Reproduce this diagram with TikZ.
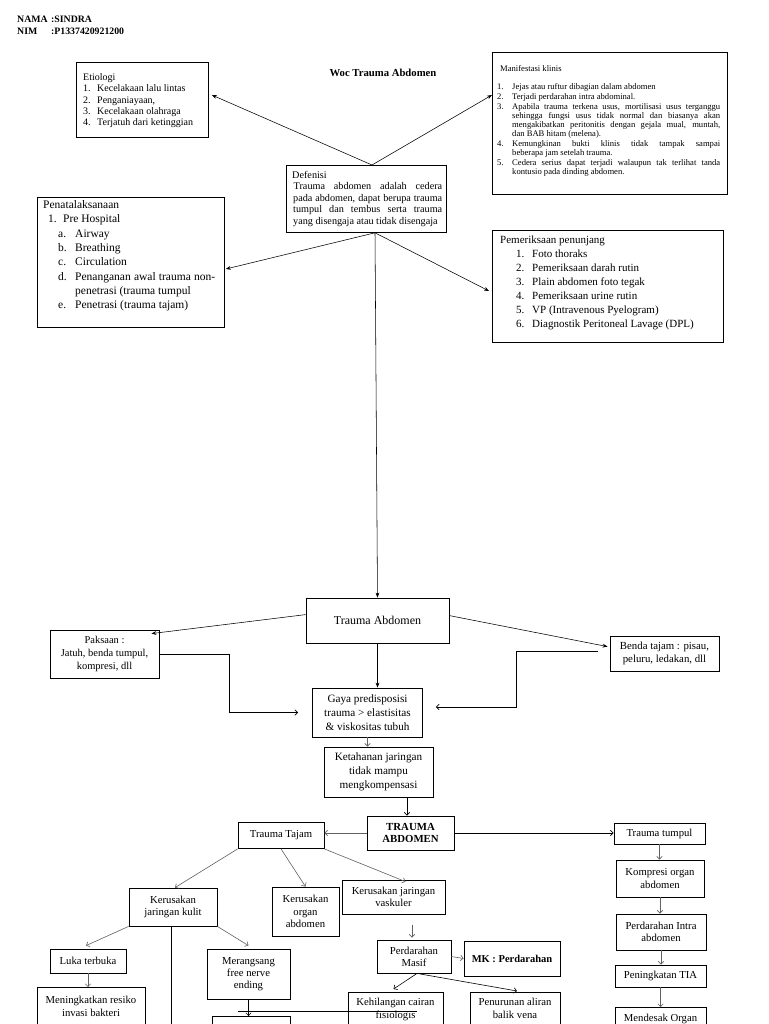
\documentclass[tikz,border=0pt]{standalone}
\usepackage{fontspec}
\setmainfont{Liberation Serif}
\usetikzlibrary{arrows.meta,calc}
\newcommand\trfont{\fontsize{10.7}{12.3}\selectfont}
\begin{document}
\begin{tikzpicture}[x=1pt,y=-1pt,
  bx/.style={draw=black, line width=0.8pt, inner sep=0pt, align=center, font=\trfont},
  fa/.style={line width=0.55pt, -{Stealth[length=5pt,width=3.8pt]}},
  oa/.style={line width=0.6pt, draw=black!62, -{Straight Barb[length=2.8pt,width=5.5pt,line width=0.6pt]}},
  od/.style={line width=0.6pt, draw=black, -{Straight Barb[length=2.8pt,width=5.5pt,line width=0.6pt]}},
  ln/.style={line width=0.6pt, draw=black},
  txt/.style={anchor=north west, inner sep=0pt, align=left}]
\fill[white] (0,0) rectangle (768,1024);
\useasboundingbox (0,0) rectangle (768,1024);

% header and title
\node[anchor=west, inner sep=0pt, font=\fontsize{9.8}{12}\selectfont\bfseries] (hdr) at (17,26)
  {\begin{tabular}{@{}l@{\hspace{3.5pt}}l@{}}NAMA & :SINDRA\\ NIM & :P1337420921200\end{tabular}};
\node[font=\fontsize{10.7}{12}\selectfont\bfseries] (ttl) at (383,73) {Woc Trauma Abdomen};

% upper boxes
\node[bx, minimum width=132, minimum height=75, anchor=north west] (eti) at (76,62) {};
\node[txt, font=\fontsize{10}{11.3}\selectfont] (etitx) at (83,73.5) {Etiologi\\
\makebox[14pt][l]{1.}Kecelakaan lalu lintas\\
\makebox[14pt][l]{2.}Penganiayaan,\\
\makebox[14pt][l]{3.}Kecelakaan olahraga\\
\makebox[14pt][l]{4.}Terjatuh dari ketinggian};

\node[bx, minimum width=235, minimum height=142, anchor=north west] (man) at (492,52) {};
\node[txt, font=\fontsize{8.6}{8.8}\selectfont] (mantx) at (497,65) {\hspace*{3pt}Manifestasi klinis\\[9.6pt]
\makebox[15pt][l]{1.}Jejas atau ruftur dibagian dalam abdomen\\[1.3pt]
\makebox[15pt][l]{2.}Terjadi perdarahan intra abdominal.\\[1.3pt]
\makebox[15pt][l]{3.}\makebox[208pt][s]{Apabila trauma terkena usus, mortilisasi usus terganggu}\\
\hspace*{15pt}\makebox[208pt][s]{sehingga fungsi usus tidak normal dan biasanya akan}\\
\hspace*{15pt}\makebox[208pt][s]{mengakibatkan peritonitis dengan gejala mual, muntah,}\\
\hspace*{15pt}dan BAB hitam (melena).\\[1.3pt]
\makebox[15pt][l]{4.}\makebox[208pt][s]{Kemungkinan bukti klinis tidak tampak sampai}\\
\hspace*{15pt}beberapa jam setelah trauma.\\[1.3pt]
\makebox[15pt][l]{5.}\makebox[208pt][s]{Cedera serius dapat terjadi walaupun tak terlihat tanda}\\
\hspace*{15pt}kontusio pada dinding abdomen.};

\node[bx, minimum width=160, minimum height=67, anchor=north west] (def) at (286,165) {};
\node[txt, font=\fontsize{10.2}{11.5}\selectfont] (deftx) at (292,171) {Defenisi\\
\hspace*{1.5pt}\makebox[148.5pt][s]{Trauma abdomen adalah cedera}\\
\hspace*{1pt}\makebox[149pt][s]{pada abdomen, dapat berupa trauma}\\
\hspace*{1pt}\makebox[149pt][s]{tumpul dan tembus serta trauma}\\
\hspace*{1pt}yang disengaja atau tidak disengaja};

\node[bx, minimum width=187, minimum height=130, anchor=north west] (pen) at (37,197) {};
\node[txt, font=\fontsize{11.5}{14.3}\selectfont] (pentx) at (43,200.5) {Penatalaksanaan\\
\hspace*{5pt}\makebox[15pt][l]{1.}Pre Hospital\\
\hspace*{15pt}\makebox[17pt][l]{a.}Airway\\
\hspace*{15pt}\makebox[17pt][l]{b.}Breathing\\
\hspace*{15pt}\makebox[17pt][l]{c.}Circulation\\
\hspace*{15pt}\makebox[17pt][l]{d.}\makebox[140pt][s]{Penanganan awal trauma non-}\\
\hspace*{32pt}penetrasi (trauma tumpul\\
\hspace*{15pt}\makebox[17pt][l]{e.}Penetrasi (trauma tajam)};

\node[bx, minimum width=231, minimum height=112, anchor=north west] (pem) at (492,230) {};
\node[txt, font=\fontsize{11}{14}\selectfont] (pemtx) at (500,236) {Pemeriksaan penunjang\\
\hspace*{16pt}\makebox[16pt][l]{1.}Foto thoraks\\
\hspace*{16pt}\makebox[16pt][l]{2.}Pemeriksaan darah rutin\\
\hspace*{16pt}\makebox[16pt][l]{3.}Plain abdomen foto tegak\\
\hspace*{16pt}\makebox[16pt][l]{4.}Pemeriksaan urine rutin\\
\hspace*{16pt}\makebox[16pt][l]{5.}VP (Intravenous Pyelogram)\\
\hspace*{16pt}\makebox[16pt][l]{6.}Diagnostik Peritoneal Lavage (DPL)};

% middle boxes
\node[bx, minimum width=143, minimum height=45, font=\fontsize{12}{14}\selectfont] (ta) at (377.5,620.5) {Trauma Abdomen};
\node[bx, minimum width=109, minimum height=48, font=\fontsize{10.5}{13}\selectfont] (pak) at (104.5,654) {Paksaan :\\Jatuh, benda tumpul,\\kompresi, dll};
\node[bx, minimum width=109, minimum height=35, font=\fontsize{10.8}{13.3}\selectfont] (ben) at (664.5,653.5) {Benda tajam : pisau,\\peluru, ledakan, dll};
\node[bx, minimum width=110, minimum height=49, font=\fontsize{11.2}{14.3}\selectfont] (gaya) at (367.5,712.5) {Gaya predisposisi\\trauma > elastisitas\\\& viskositas tubuh};
\node[bx, minimum width=109, minimum height=50, font=\fontsize{11.2}{14}\selectfont] (ket) at (378.5,772) {Ketahanan jaringan\\tidak mampu\\mengkompensasi};
\node[bx, minimum width=87, minimum height=34, font=\fontsize{10.8}{12.3}\selectfont\bfseries] (TA2) at (410.5,833) {TRAUMA\\ABDOMEN};

% right chain
\node[bx, minimum width=91, minimum height=21] (tumpul) at (659.5,833.5) {Trauma tumpul};
\node[bx, minimum width=88, minimum height=37] (komp) at (660,878.5) {Kompresi organ\\abdomen};
\node[bx, minimum width=90, minimum height=36] (pintra) at (661,932) {Perdarahan Intra\\abdomen};
\node[bx, minimum width=91, minimum height=22] (tia) at (660.5,976) {Peningkatan TIA};
\node[bx, minimum width=91, anchor=north, inner ysep=7pt] (mend) at (660.5,1007) {Mendesak Organ\\\phantom{M}};

% left tree
\node[bx, minimum width=86, minimum height=26] (tajam) at (281,835.5) {Trauma Tajam};
\node[bx, minimum width=88, minimum height=38] (kulit) at (173,907) {Kerusakan\\jaringan kulit};
\node[bx, minimum width=67, minimum height=49] (organ) at (305.5,911.5) {Kerusakan\\organ\\abdomen};
\node[bx, minimum width=103, minimum height=34] (vask) at (393.5,897) {Kerusakan jaringan\\vaskuler};
\node[bx, minimum width=76, minimum height=24] (luka) at (88,961) {Luka terbuka};
\node[bx, minimum width=83, minimum height=50] (meran) at (248.5,974) {Merangsang\\free nerve\\ending};
\node[bx, minimum width=108, anchor=north, inner ysep=9pt] (mening) at (91,987) {Meningkatkan resiko\\invasi bakteri\\\phantom{M}};
\node[bx, minimum width=74, minimum height=33] (masif) at (414,956.5) {Perdarahan\\Masif};
\node[bx, minimum width=96, minimum height=35, font=\fontsize{10.5}{12}\selectfont\bfseries] (mk) at (512,958.5) {MK : Perdarahan};
\node[bx, minimum width=95, anchor=north, inner ysep=6pt] (keh) at (395.5,992) {Kehilangan cairan\\fisiologis};
\node[bx, minimum width=90, anchor=north, inner ysep=6pt] (penu) at (515,992) {Penurunan aliran\\balik vena};
\node[bx, minimum width=78, minimum height=30, anchor=north] (nyeri) at (251,1016) {};

% coordinates
\coordinate (dft) at ($(def.north west)+(86,0)$);
\coordinate (dfb) at ($(def.south west)+(89,0)$);
\coordinate (k2) at ($(TA2.north)+(-3.5,0)$);
\coordinate (h1) at (238,1011);
\coordinate (h2) at (417,1011);

% upper connectors
\draw[fa] (dft) -- ($(eti.north east)+(3,33)$);
\draw[fa] (dft) -- ($(man.north west)+(0,43)$);
\draw[fa] (dfb) -- ($(pen.north east)+(1,72)$);
\draw[fa] (dfb) -- ($(pem.north west)+(-3,61)$);
\draw[fa] (dfb) -- (ta.north);

% middle connectors
\draw[fa] ($(ta.north west)+(0,17)$) -- ($(pak.north east)+(-8,4)$);
\draw[fa] ($(ta.north east)+(0,18)$) -- ($(ben.north west)+(-2,11)$);
\draw[od] (pak.east) -- ++(70,0) |- ($(gaya.west)+(-14,0)$);
\draw[od] ($(ben.west)+(-12,-2.5)$) -- ++(-81,0) |- ($(gaya.east)+(13,-5.5)$);
\draw[fa] (ta.south) -- (ta.south |- gaya.north);
\draw[oa] (gaya.south) -- (gaya.south |- ket.north);
\draw[od] (k2 |- ket.south) -- (k2);
\draw[oa] (TA2.west) -- (TA2.west -| tajam.east);
\draw[od] (TA2.east) -- (TA2.east -| tumpul.west);

% right chain
\draw[oa] (tumpul.south) -- (tumpul.south |- komp.north);
\draw[oa] (komp.south) -- (komp.south |- pintra.north);
\draw[oa] (pintra.south) -- (pintra.south |- tia.north);
\draw[oa] (tia.south) -- (tia.south |- mend.north);

% left tree
\draw[oa] (tajam.south west) -- ($(kulit.north)+(2,0)$);
\draw[oa] (tajam.south) -- (organ.north);
\draw[oa] (tajam.south east) -- ($(vask.north)+(12,2)$);
\draw[oa] (kulit.south west) -- ($(luka.north)+(-2,-3)$);
\draw[oa] (kulit.south east) -- ($(meran.north)+(0,-3)$);
\draw[ln] ($(kulit.south)+(-2,0)$) -- ++(0,120);
\draw[oa] (luka.south) -- (luka.south |- mening.north);
\draw[od] (meran.south) -- (meran.south |- nyeri.north);
\draw[ln] (h1) -- (h2);
\draw[oa] ($(masif.north)+(-2,-15)$) -- ($(masif.north)+(-2,-2)$);
\draw[oa] (masif.east) -- (mk.west);
\draw[od] ($(masif.south)+(3,0)$) -- ($(keh.north)+(-2,-3)$);
\draw[od] ($(masif.south)+(3,0)$) -- ($(penu.north)+(2,-1)$);
\end{tikzpicture}
\end{document}
